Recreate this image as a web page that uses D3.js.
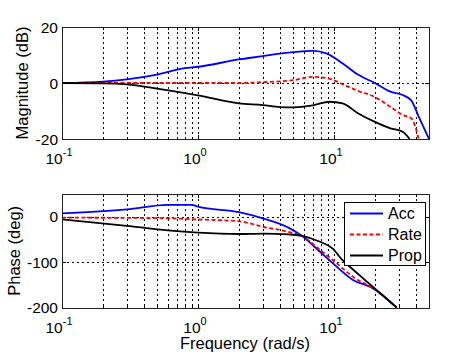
<!DOCTYPE html>
<html><head><meta charset="utf-8">
<script src="https://cdn.jsdelivr.net/npm/d3@7"></script>
<style>body{margin:0;background:#fff}svg{display:block}text{font-family:"Liberation Sans",Arial,sans-serif;fill:#000}</style>
</head><body>
<svg id="c" width="474" height="355"></svg>
<script>
const magFreqAcc = [0.1,0.2,0.3,0.5,0.8,1,2,3,4,5,7,8.8,11.6,15,20,26,32,37,42,50];
const magAcc     = [0,0.5,1.3,3,5.3,5.8,8.4,9.6,10.5,11,11.5,10.6,7,3,0,-3.1,-4.3,-6.2,-12,-20];
const magFreqRate = [0.1,0.5,1,2,3,4,5,7,8.8,10,12,15,20,26,32,37,42];
const magRate     = [0,0,0,0,0.3,0.6,1,2.2,1.8,1,-0.8,-2.8,-5,-8.5,-11.4,-12.6,-20];
const magFreqProp = [0.1,0.2,0.3,0.5,1,2,3,4,5,7,9.3,11.6,15,20,26,32,36];
const magProp     = [0,-0.1,-0.5,-2,-4.4,-7.3,-7.9,-8.6,-8.7,-8,-6.7,-7.3,-10.8,-13.9,-16.2,-17.4,-20];

const phFreqAcc = [0.1,0.3,0.6,0.9,1,2,3,4.7,5.8,7.9,9.8,13.8,19.3,29];
const phAcc     = [7.5,16,26,26,22,10,-3.5,-25,-42,-77,-102,-139,-157,-200];
const phFreqRate = [0.1,0.5,1,2,3,4.7,5.8,7.9,9.8,13.8,19.3,29];
const phRate     = [-2,-3,-6,-10,-22,-34,-42,-73,-95,-132,-157,-200];
const phFreqProp = [0.1,0.3,0.6,1,2,3,4.7,5.8,7.9,9.8,11.5,13.8,19.3,29];
const phProp     = [-6,-20,-30,-35,-38,-37,-39,-42,-55,-70,-95,-116,-154,-200];

const seriesNames = ["Acc","Rate","Prop"];
const seriesColors = ["#0000ff","#ff0000","#000000"];
const seriesDash = [null,"4,2.5",null];

const magTicks = [-20,0,20];
const phTicks = [-200,-100,0];
const decadeTicks = [0.1,1,10];

const svg = d3.select("#c");
const X0=62, X1=429;
const x = d3.scaleLog().domain([0.1,50]).range([X0,X1]);
const yMag = d3.scaleLinear().domain([-20,20]).range([139,27]);
const yPh = d3.scaleLinear().domain([-200,50]).range([307.7,194]);

const minorTicks = [];
[0.1,1,10].forEach(d=>{for(let k=1;k<10;k++){const v=d*k; if(v<=50) minorTicks.push(v);}});
const px = v => Math.round(v)+0.5;

function panel(y, ticks, gridY, id, data, label, labelX){
  const g = svg.append("g");
  const [yb,yt] = y.range();
  g.append("clipPath").attr("id",id).append("rect").attr("x",X0).attr("y",yt).attr("width",X1-X0).attr("height",yb-yt);
  // grid
  minorTicks.filter(v=>v>0.1 && v<50).forEach(v=>{
    g.append("line").attr("x1",px(x(v))).attr("x2",px(x(v))).attr("y1",yt).attr("y2",yb)
      .attr("stroke","#000").attr("stroke-width",1).attr("stroke-dasharray","2,3")
      .attr("shape-rendering","crispEdges");
  });
  gridY.forEach(v=>{
    g.append("line").attr("x1",X0).attr("x2",X1).attr("y1",px(y(v))).attr("y2",px(y(v)))
      .attr("stroke","#000").attr("stroke-width",1).attr("stroke-dasharray","2,3")
      .attr("shape-rendering","crispEdges");
  });
  // ticks (inside)
  minorTicks.forEach(v=>{
    const len = decadeTicks.includes(v)?4:2.5;
    g.append("line").attr("x1",px(x(v))).attr("x2",px(x(v))).attr("y1",yb).attr("y2",yb-len).attr("stroke","#000").attr("shape-rendering","crispEdges");
    g.append("line").attr("x1",px(x(v))).attr("x2",px(x(v))).attr("y1",yt).attr("y2",yt+len).attr("stroke","#000").attr("shape-rendering","crispEdges");
  });
  ticks.forEach(v=>{
    g.append("line").attr("x1",X0).attr("x2",X0+4).attr("y1",px(y(v))).attr("y2",px(y(v))).attr("stroke","#000").attr("shape-rendering","crispEdges");
    g.append("line").attr("x1",X1).attr("x2",X1-4).attr("y1",px(y(v))).attr("y2",px(y(v))).attr("stroke","#000").attr("shape-rendering","crispEdges");
    g.append("text").attr("x",X0-4).attr("y",y(v)+5.5).attr("text-anchor","end").attr("font-size",15.5).text(v);
  });
  // x tick labels
  decadeTicks.forEach(v=>{
    const t = g.append("text").attr("x",x(v)-3).attr("y",yb+25).attr("text-anchor","middle").attr("font-size",15.5);
    t.append("tspan").text("10");
    t.append("tspan").attr("font-size",11).attr("dy",-8).text(Math.round(Math.log10(v)));
  });
  // lines
  const line = d3.line().x(d=>x(d[0])).y(d=>y(d[1])).curve(d3.curveMonotoneX);
  const lg = g.append("g").attr("clip-path",`url(#${id})`);
  data.forEach((s,i)=>{
    lg.append("path").attr("d",line(d3.zip(s[0],s[1]))).attr("fill","none")
      .attr("stroke",seriesColors[i]).attr("stroke-width",1.8)
      .attr("stroke-dasharray",seriesDash[i]);
  });
  // box
  g.append("rect").attr("x",X0+0.5).attr("y",Math.round(yt)+0.5).attr("width",X1-X0).attr("height",Math.round(yb-yt))
    .attr("fill","none").attr("stroke","#222").attr("stroke-width",1).attr("shape-rendering","crispEdges");
  // y label
  g.append("text").attr("transform",`translate(${labelX},${(yt+yb)/2}) rotate(-90)`)
    .attr("text-anchor","middle").attr("font-size",16.5).text(label);
  return g;
}

panel(yMag, magTicks, [0], "clipMag",
  [[magFreqAcc,magAcc],[magFreqRate,magRate],[magFreqProp,magProp]], "Magnitude (dB)", 28);
panel(yPh, phTicks, [0,-100], "clipPh",
  [[phFreqAcc,phAcc],[phFreqRate,phRate],[phFreqProp,phProp]], "Phase (deg)", 20);

svg.append("text").attr("x",245).attr("y",349).attr("text-anchor","middle").attr("font-size",16.5).text("Frequency (rad/s)");

// legend
const lgd = svg.append("g");
lgd.append("rect").attr("x",344.5).attr("y",202.5).attr("width",81).attr("height",63)
  .attr("fill","#fff").attr("stroke","#000").attr("stroke-width",1).attr("shape-rendering","crispEdges");
seriesNames.forEach((n,i)=>{
  const yy = 213.5 + i*21;
  lgd.append("line").attr("x1",350).attr("x2",383).attr("y1",yy).attr("y2",yy)
    .attr("stroke",seriesColors[i]).attr("stroke-width",1.8).attr("stroke-dasharray",seriesDash[i]);
  lgd.append("text").attr("x",388).attr("y",yy+5.5).attr("font-size",16).text(n);
});
</script>
</body></html>
